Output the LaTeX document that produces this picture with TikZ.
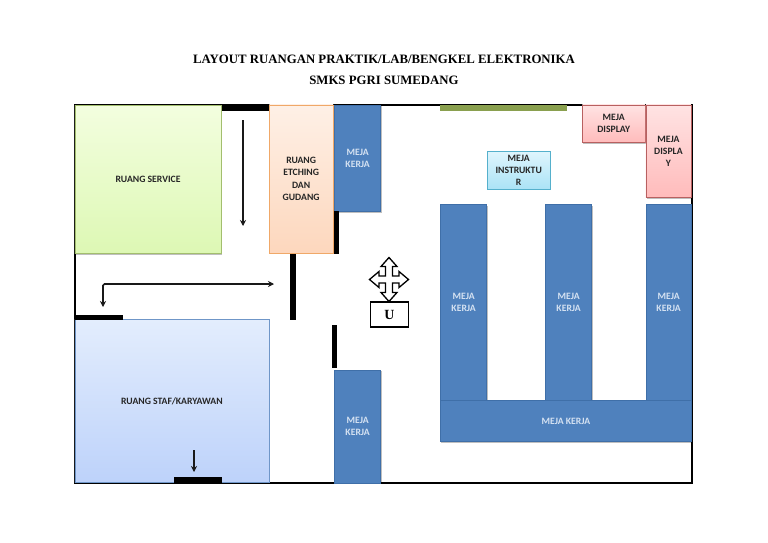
\documentclass[tikz,border=0pt]{standalone}
\usepackage{fontspec}
\setmainfont{Liberation Serif}
\newfontfamily\labelfont{Carlito}
\usetikzlibrary{shadows,arrows.meta,calc}
\definecolor{deskblue}{HTML}{4F81BD}
\definecolor{deskedge}{HTML}{3F6FA8}
\definecolor{deskink}{HTML}{D5E2F2}
\definecolor{barolive}{HTML}{8AA04F}
\definecolor{ink}{HTML}{262626}
\tikzset{
  x=1pt,y=-1pt,
  room/.style={draw=#1,line width=0.9pt,anchor=north west,inner sep=0pt,align=center,
     font=\labelfont\bfseries\fontsize{9.7}{12.3}\selectfont,text=ink,
     drop shadow={shadow xshift=1pt,shadow yshift=-1.5pt,fill=black,opacity=.25}},
  desk/.style={room=deskedge,fill=deskblue,text=deskink},
  wall/.style={line width=#1,line cap=butt,black},
  outline/.style={line width=1.4pt,black},
  flow/.style={line width=1.4pt,black!90,-{Stealth[length=6pt,width=6pt]}},
  titletext/.style={font=\bfseries\fontsize{12.8}{15}\selectfont,inner sep=0pt},
}
\definecolor{svtop}{HTML}{F3FEDF}
\definecolor{svbot}{HTML}{DDF8B4}
\definecolor{svedge}{HTML}{A3BE6E}
\definecolor{ettop}{HTML}{FEF0E6}
\definecolor{etbot}{HTML}{FDD7BD}
\definecolor{etedge}{HTML}{F0A868}
\definecolor{sttop}{HTML}{E3EDFD}
\definecolor{stbot}{HTML}{BDD2FA}
\definecolor{stedge}{HTML}{6F96C8}
\definecolor{dptop}{HTML}{FFE3E3}
\definecolor{dpbot}{HTML}{FFBBBB}
\definecolor{dpedge}{HTML}{B86060}
\definecolor{intop}{HTML}{DFF5FD}
\definecolor{inbot}{HTML}{ABE3F6}
\definecolor{inedge}{HTML}{55B0CC}
\begin{document}
\begin{tikzpicture}
\useasboundingbox (0,0) rectangle (768,543);
\fill[white] (0,0) rectangle (768,543);
% titles
\node[titletext] (title1) at (384,59.5) {LAYOUT RUANGAN PRAKTIK/LAB/BENGKEL ELEKTRONIKA};
\node[titletext] (title2) at (384,80.5) {SMKS PGRI SUMEDANG};
% outline
\draw[outline] (75,105) -- (692,105) -- (692,483) -- (75,483) -- cycle;
% rooms
\node[room=svedge,top color=svtop,bottom color=svbot,minimum width=146.3,minimum height=148.5] (service) at (74.5,104.7) {RUANG SERVICE};
\node[room=etedge,top color=ettop,bottom color=etbot,minimum width=63.8,minimum height=148] (etching) at (268.8,104.5) {RUANG\\ETCHING\\DAN\\GUDANG};
\node[room=stedge,top color=sttop,bottom color=stbot,minimum width=194,minimum height=163.5] (staf) at (74.5,318.8) {RUANG STAF/KARYAWAN};
% desks
\node[desk,minimum width=46.4,minimum height=106.4] (mk1) at (334,104.5) {MEJA\\KERJA};
\node[desk,minimum width=46.4,minimum height=113] (mk2) at (334,369.5) {MEJA\\KERJA};
\node[desk,minimum width=46.4,minimum height=195.5] (mk3) at (440,204) {MEJA\\KERJA};
\node[desk,minimum width=46.4,minimum height=195.5] (mk4) at (545,204) {MEJA\\KERJA};
\node[desk,minimum width=45.4,minimum height=195.5] (mk5) at (645.5,204) {MEJA\\KERJA};
\node[desk,minimum width=250.9,minimum height=41.4] (mk6) at (440,400) {MEJA KERJA};
% displays, instructor
\node[room=dpedge,top color=dptop,bottom color=dpbot,minimum width=62.5,minimum height=37.5] (disp1) at (582,104.5) {MEJA\\DISPLAY};
\node[room=dpedge,top color=dptop,bottom color=dpbot,minimum width=45,minimum height=92.5] (disp2) at (645.5,104.5) {MEJA\\DISPLA\\Y};
\node[room=inedge,top color=intop,bottom color=inbot,minimum width=62.5,minimum height=37.5] (instr) at (487,151) {MEJA\\INSTRUKTU\\R};
% green bar
\fill[barolive] (440,105) rectangle (567,111);
% walls
\coordinate (w1a) at (221.5,107.5); \coordinate (w1b) at (269,107.5);
\draw[wall=6pt] (w1a) -- (w1b);
\coordinate (w2a) at (336,211); \coordinate (w2b) at (336,254);
\draw[wall=5pt] (w2a) -- (w2b);
\coordinate (w3a) at (293,254); \coordinate (w3b) at (293,320);
\draw[wall=6pt] (w3a) -- (w3b);
\coordinate (w4a) at (334,325); \coordinate (w4b) at (334,367.5);
\draw[wall=5pt] (w4a) -- (w4b);
\coordinate (w5a) at (75,317.5); \coordinate (w5b) at (123,317.5);
\draw[wall=5.5pt] (w5a) -- (w5b);
\coordinate (w6a) at (174,480); \coordinate (w6b) at (222,480);
\draw[wall=6pt] (w6a) -- (w6b);
% flow arrows
\coordinate (f1a) at (243,120); \coordinate (f1b) at (243,226);
\draw[flow] (f1a) -- (f1b);
\coordinate (f2m) at (103,284);
\coordinate (f2a) at (103,307); \coordinate (f2b) at (274,284);
\draw[flow,line width=1.7pt,{Stealth[length=6pt,width=6pt]}-{Stealth[length=6pt,width=6pt]},rounded corners=1.5pt] (f2a) -- (f2m) -- (f2b);
\coordinate (f3a) at (194,450); \coordinate (f3b) at (194,472);
\draw[flow] (f3a) -- (f3b);
% U symbol
\node[draw=black,line width=1.3pt,fill=white,minimum width=38,minimum height=25,inner sep=0pt,font=\bfseries\fontsize{14}{14}\selectfont] (ubox) at (389.5,314.5) {U};
\coordinate (q) at (389,279.5);
\draw[line width=1.3pt,fill=white,line join=miter]
  ($(q)+(0,-22)$) -- ($(q)+(8,-13)$) -- ($(q)+(3.5,-13)$) -- ($(q)+(3.5,-3.5)$) -- ($(q)+(10,-3.5)$) -- ($(q)+(10,-8)$)
  -- ($(q)+(19.5,0)$) -- ($(q)+(10,8)$) -- ($(q)+(10,3.5)$) -- ($(q)+(3.5,3.5)$) -- ($(q)+(3.5,13)$) -- ($(q)+(8,13)$)
  -- ($(q)+(0,22)$) -- ($(q)+(-8,13)$) -- ($(q)+(-3.5,13)$) -- ($(q)+(-3.5,3.5)$) -- ($(q)+(-10,3.5)$) -- ($(q)+(-10,8)$)
  -- ($(q)+(-19.5,0)$) -- ($(q)+(-10,-8)$) -- ($(q)+(-10,-3.5)$) -- ($(q)+(-3.5,-3.5)$) -- ($(q)+(-3.5,-13)$) -- ($(q)+(-8,-13)$) -- cycle;
\end{tikzpicture}
\end{document}
